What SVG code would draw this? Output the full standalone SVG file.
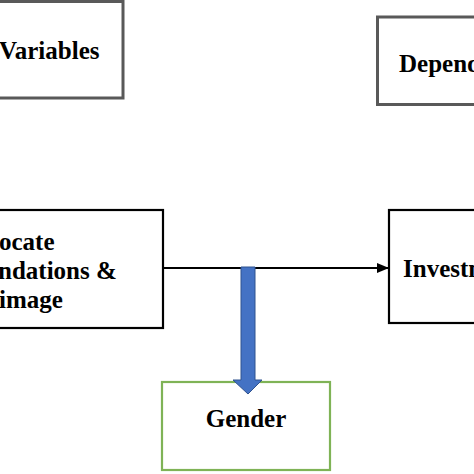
<svg xmlns="http://www.w3.org/2000/svg" width="474" height="474" viewBox="0 0 474 474">
<style>
.gray{fill:#fff;stroke:#595959;stroke-width:3}
.blk{fill:#fff;stroke:#000;stroke-width:2.2}
.grn{fill:#fff;stroke:#7fb356;stroke-width:2.2}
.t{font-family:"Liberation Serif","Times New Roman",serif;font-weight:bold;font-size:25px;fill:#000}
</style>
<defs>
<marker id="ah" markerWidth="12" markerHeight="10" refX="11" refY="5" orient="auto" markerUnits="userSpaceOnUse">
<path d="M0,0 L12,5 L0,10 Z" fill="#000"/>
</marker>
</defs>
<rect width="474" height="474" fill="#fff"/>
<g id="indep">
<rect class="gray" x="-10" y="1.5" width="133" height="96.5"/>
<text class="t" x="-1" y="59">Variables</text>
</g>
<g id="dep">
<rect class="gray" x="377.5" y="17" width="120" height="87.5"/>
<text class="t" x="399" y="72">Dependent</text>
</g>
<g id="allocate">
<rect class="blk" x="-10" y="210" width="173" height="118"/>
<text class="t" x="-1" y="250">ocate</text>
<text class="t" x="-2" y="279">ndations &amp;</text>
<text class="t" x="-1" y="308">image</text>
</g>
<g id="invest">
<rect class="blk" x="389" y="210" width="100" height="113"/>
<text class="t" x="403" y="277">Investment</text>
</g>
<g id="gender">
<rect class="grn" x="162" y="382" width="168" height="88"/>
<text class="t" x="246" y="427" text-anchor="middle">Gender</text>
</g>
<g id="connectors">
<line x1="163" y1="268" x2="388" y2="268" stroke="#000" stroke-width="2" marker-end="url(#ah)"/>
<path d="M241,267 L255,267 L255,380 L262,380 L248,394 L233,380 L241,380 Z" fill="#4472c4" stroke="#2f528f" stroke-width="1"/>
</g>
</svg>
